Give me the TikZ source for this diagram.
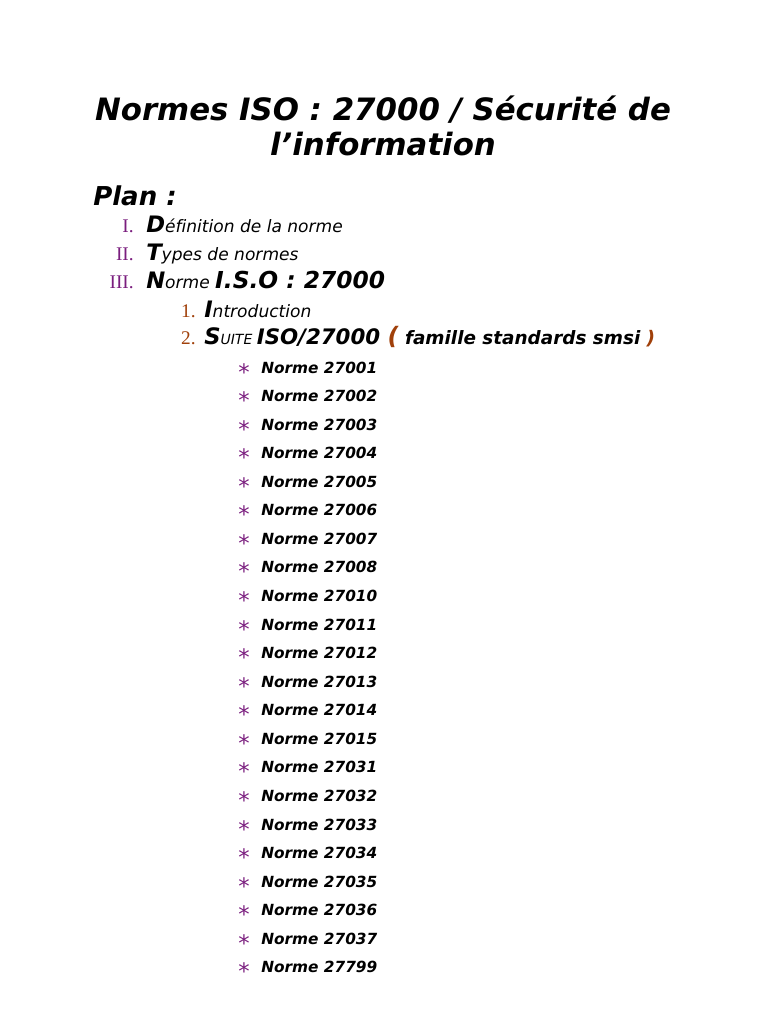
\documentclass[tikz,border=0pt]{standalone}
\usepackage{fontspec}
\setmainfont[Ligatures=NoCommon]{DejaVu Sans}
\newfontfamily\ser{Liberation Serif}
\definecolor{pur}{HTML}{7A1E7E}
\definecolor{brn}{HTML}{A0400A}
\begin{document}
\begin{tikzpicture}[x=0.75pt,y=-0.75pt,
  txt/.style={inner sep=0,anchor=base west},
  num/.style={inner sep=0,anchor=base east,font=\ser\fontsize{14.5}{14}\selectfont},
  star/.style={inner sep=0,anchor=base west,text=pur,font=\fontsize{17}{17}\selectfont},
  nm/.style={inner sep=0,anchor=base west,font=\bfseries\itshape\fontsize{11.5}{11.5}\selectfont}]
\useasboundingbox (0,0) rectangle (768,1024);
\node[inner sep=0,anchor=base] (t1) at (383,120) {\bfseries\itshape\fontsize{23.1}{23}\selectfont Normes ISO : 27000 / Sécurité de};
\node[inner sep=0,anchor=base] (t2) at (383,155) {\bfseries\itshape\fontsize{23.1}{23}\selectfont l\char"0027 information};
\node[txt] (plan) at (93,205) {\bfseries\itshape\fontsize{19.5}{19}\selectfont Plan :};
\node[num,text=pur] (n1) at (134,232) {I.};
\node[txt] (i1) at (146,232) {\itshape{\bfseries\fontsize{17}{17}\selectfont D}\fontsize{12.8}{12}\selectfont éfinition de la norme};
\node[num,text=pur] (n2) at (134,260) {II.};
\node[txt] (i2) at (146,260) {\itshape{\bfseries\fontsize{17}{17}\selectfont T}\fontsize{12.8}{12}\selectfont ypes de normes};
\node[num,text=pur] (n3) at (134,288) {III.};
\node[txt] (i3) at (146,288) {\itshape{\bfseries\fontsize{17}{17}\selectfont N}{\fontsize{12.8}{12}\selectfont orme }{\bfseries\fontsize{17.5}{17}\selectfont I.S.O : 27000}};
\node[num,text=brn] (s1) at (196,317) {1.};
\node[txt] (j1) at (204,317) {\itshape{\bfseries\fontsize{17}{17}\selectfont I}\fontsize{12.8}{12}\selectfont ntroduction};
\node[num,text=brn] (s2) at (196,344) {2.};
\node[txt] (j2) at (204,344) {\itshape\bfseries{\fontsize{17}{17}\selectfont S}{\mdseries\fontsize{10.5}{10}\selectfont UITE }{\fontsize{16}{16}\selectfont ISO/27000 }{\color{brn}\fontsize{18}{18}\selectfont(}{\fontsize{13.8}{13}\selectfont\ famille standards smsi }{\color{brn}\fontsize{14}{13}\selectfont)}};
\foreach \n [count=\k from 0] in {27001,27002,27003,27004,27005,27006,27007,27008,27010,27011,27012,27013,27014,27015,27031,27032,27033,27034,27035,27036,27037,27799}{
  \node[star] (a\k) at (238,{380+28.57*\k}) {*};
  \node[nm] (b\k) at (261,{373+28.57*\k}) {Norme \n};
}
\end{tikzpicture}
\end{document}
